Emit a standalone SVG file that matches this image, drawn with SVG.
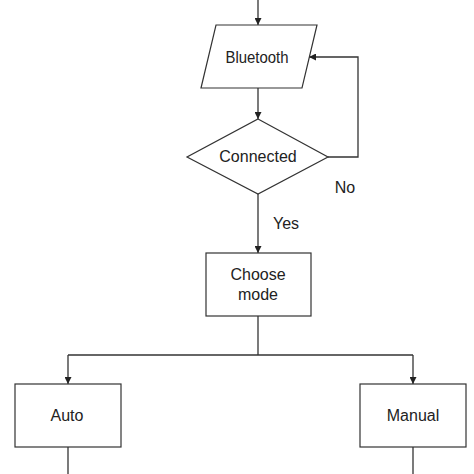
<svg xmlns="http://www.w3.org/2000/svg" width="474" height="474" viewBox="0 0 474 474">
<style>
.s{fill:#fff;stroke:#333;stroke-width:1.2}
.c{fill:none;stroke:#333;stroke-width:1.3}
text{font-family:"Liberation Sans",Arial,sans-serif;font-size:16px;fill:#222;text-anchor:middle}
</style>
<defs>
<marker id="a" viewBox="0 0 10 10" refX="10" refY="5" markerWidth="7" markerHeight="7" orient="auto" markerUnits="userSpaceOnUse">
<path d="M0,0 L10,5 L0,10 z" fill="#222"/>
</marker>
</defs>
<rect width="474" height="474" fill="#fff"/>
<g id="connectors">
<line class="c" x1="258" y1="0" x2="258" y2="25" marker-end="url(#a)"/>
<line class="c" x1="258" y1="88" x2="258" y2="119" marker-end="url(#a)"/>
<polyline class="c" points="328,157 358,157 358,57 309,57" marker-end="url(#a)"/>
<line class="c" x1="258" y1="194" x2="258" y2="253" marker-end="url(#a)"/>
<polyline class="c" points="258,316 258,355"/>
<polyline class="c" points="68,355 413,355"/>
<line class="c" x1="68" y1="355" x2="68" y2="384" marker-end="url(#a)"/>
<line class="c" x1="413" y1="355" x2="413" y2="384" marker-end="url(#a)"/>
<line class="c" x1="68" y1="447" x2="68" y2="474"/>
<line class="c" x1="413" y1="447" x2="413" y2="474"/>
<text x="345" y="193">No</text>
<text x="286" y="229">Yes</text>
</g>
<g id="bluetooth">
<polygon class="s" points="216,25 317,25 302,88 201,88"/>
<text x="257" y="63" textLength="63" lengthAdjust="spacingAndGlyphs">Bluetooth</text>
</g>
<g id="connected">
<polygon class="s" points="258,119 328,157 258,194 187,157"/>
<text x="258" y="162">Connected</text>
</g>
<g id="choose">
<rect class="s" x="206" y="253" width="105" height="63"/>
<text x="258" y="280">Choose</text>
<text x="258" y="300">mode</text>
</g>
<g id="auto">
<rect class="s" x="15" y="384" width="106" height="63"/>
<text x="67" y="421">Auto</text>
</g>
<g id="manual">
<rect class="s" x="360" y="384" width="106" height="63"/>
<text x="413" y="421">Manual</text>
</g>
</svg>
